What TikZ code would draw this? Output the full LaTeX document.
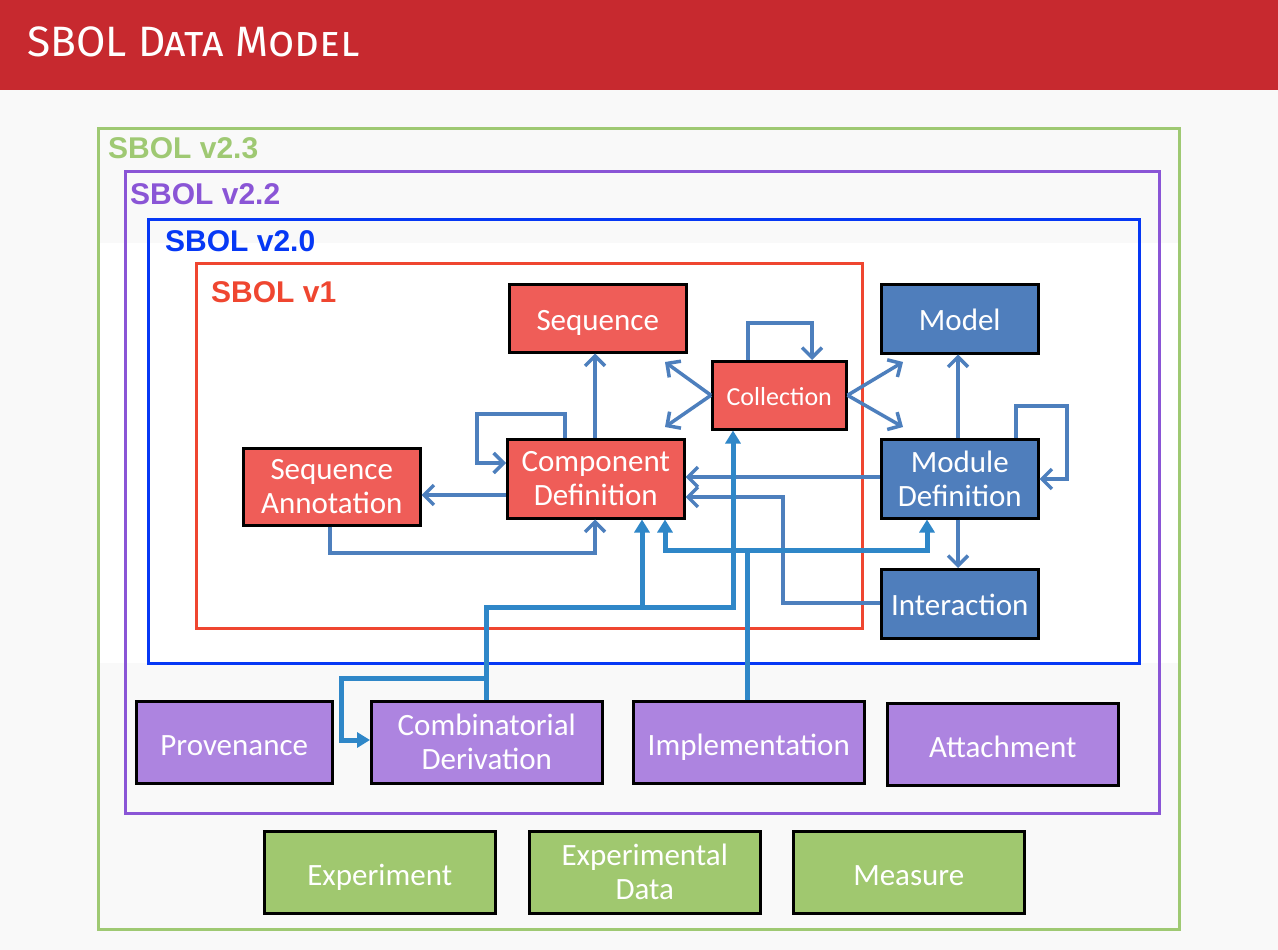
\documentclass[tikz,border=0pt]{standalone}
\usepackage{fontspec}
\usetikzlibrary{arrows.meta}
\newfontfamily\carl{Carlito}
\newfontfamily\lsans{Liberation Sans}
\newfontfamily\fira{Fira Sans}
\definecolor{hdr}{HTML}{C7292F}
\definecolor{pagebg}{HTML}{F9F9F9}
\definecolor{fgreen}{HTML}{9FC973}
\definecolor{fpurple}{HTML}{8A55D6}
\definecolor{fblue}{HTML}{0638F5}
\definecolor{fred}{HTML}{EF4630}
\definecolor{nred}{HTML}{EF5D58}
\definecolor{nblue}{HTML}{4F7EBC}
\definecolor{npurple}{HTML}{AD84E0}
\definecolor{ngreen}{HTML}{A0C86F}
\definecolor{steel}{HTML}{4D7FBD}
\definecolor{bright}{HTML}{2F87C8}
\tikzset{
  basebox/.style={draw=black, line width=2.5pt, text=white, align=center, anchor=north west,
    inner sep=0pt, font=\carl\fontsize{31}{34}\selectfont},
  rbox/.style={basebox, fill=nred},
  bbox/.style={basebox, fill=nblue},
  pbox/.style={basebox, fill=npurple},
  gbox/.style={basebox, fill=ngreen},
  oneline/.style={text height=24pt, text depth=0pt},
  lowline/.style={text height=27pt, text depth=0pt},
  frame/.style={line width=3pt},
  flabel/.style={anchor=base west, inner sep=0pt, font=\lsans\bfseries\fontsize{30}{34}\selectfont},
  sarr/.style={draw=steel, line width=3.5pt, -{Straight Barb[length=10pt,width=20pt,line width=3.5pt]}},
  barr/.style={draw=bright, line width=5pt, -{Triangle[length=13pt,width=15pt]}},
}
\begin{document}
\begin{tikzpicture}[x=1pt,y=-1pt]
\useasboundingbox (0,0) rectangle (1278,950);
% backgrounds
\fill[pagebg] (0,0) rectangle (1278,950);
\fill[hdr] (0,0) rectangle (1278,90);
\fill[white] (100,243) rectangle (1178,663);
\node[anchor=base west, inner sep=0pt, text=white, font=\fira\fontsize{42.5}{50}\selectfont] (title) at (27,57) {\scshape SBOL Data Model};
% frames
\draw[frame, fgreen] (98,128) rectangle (1179,929);
\draw[frame, fpurple] (125,171) rectangle (1159,813);
\draw[frame, fblue] (148,219) rectangle (1139,663);
\draw[frame, fred] (196,263) rectangle (862,628);
\node[flabel, text=fgreen] (l23) at (108,158) {SBOL v2.3};
\node[flabel, text=fpurple] (l22) at (130,204) {SBOL v2.2};
\node[flabel, text=fblue] (l20) at (165,251) {SBOL v2.0};
\node[flabel, text=fred] (l1) at (211,302) {SBOL v1};
% red nodes
\node[rbox, oneline, minimum width=177pt, minimum height=68pt] (seq) at (508,283) {Sequence};
\node[rbox, oneline, minimum width=134pt, minimum height=68pt, font=\carl\fontsize{26}{30}\selectfont, text height=20pt] (coll) at (711,360) {Collection};
\node[rbox, minimum width=177pt, minimum height=79pt] (cd) at (506,438) {Component\\Definition};
\node[rbox, minimum width=177pt, minimum height=77pt] (sa) at (242,447) {Sequence\\Annotation};
% blue nodes
\node[bbox, oneline, minimum width=157pt, minimum height=69pt] (model) at (880,283) {Model};
\node[bbox, minimum width=157pt, minimum height=79pt] (md) at (880,438) {Module\\Definition};
\node[bbox, oneline, minimum width=157pt, minimum height=69pt] (inter) at (880,568) {Interaction};
% purple nodes
\node[pbox, lowline, minimum width=196pt, minimum height=82pt] (prov) at (135,700) {Provenance};
\node[pbox, minimum width=231pt, minimum height=82pt] (comb) at (370,700) {Combinatorial\\Derivation};
\node[pbox, lowline, minimum width=231pt, minimum height=82pt] (impl) at (632,700) {Implementation};
\node[pbox, lowline, minimum width=231pt, minimum height=82pt] (att) at (886,702) {Attachment};
% green nodes
\node[gbox, lowline, minimum width=231pt, minimum height=82pt] (exp) at (263,830) {Experiment};
\node[gbox, minimum width=231pt, minimum height=82pt] (expd) at (528,830) {Experimental\\Data};
\node[gbox, lowline, minimum width=231pt, minimum height=82pt] (meas) at (792,830) {Measure};
% free ends
\coordinate (cUL) at (665,362);
\coordinate (cLL) at (665,427);
\coordinate (cUR) at (903,362);
\coordinate (cLR) at (903,427);
% steel-blue connectors
\draw[sarr] (595,0 |- cd.north) -- (595,0 |- seq.south);
\draw[sarr] (565,0 |- cd.north) |- (477,414) |- (cd.west |- 0,463);
\draw[sarr] (cd.west |- 0,495) -- (sa.east |- 0,495);
\draw[sarr] (330,0 |- sa.south) |- (595,553) -- (595,0 |- cd.south);
\draw[sarr] (coll.west) -- (cUL);
\draw[sarr] (coll.west) -- (cLL);
\draw[sarr] (748,0 |- coll.north) |- (812,323) -- (812,0 |- coll.north);
\draw[sarr] (coll.east) -- (cUR);
\draw[sarr] (coll.east) -- (cLR);
\draw[sarr] (958,0 |- md.north) -- (958,0 |- model.south);
\draw[sarr] (1016,0 |- md.north) |- (1067,406) |- (md.east |- 0,479);
\draw[sarr] (958,0 |- md.south) -- (958,0 |- inter.north);
\draw[sarr] (md.west |- 0,477) -- (cd.east |- 0,477);
\draw[sarr] (inter.west |- 0,603) -| (783,497) -- (cd.east |- 0,497);
% bright-blue connectors
\draw[barr] (486,0 |- comb.north) |- (733,607) -- (733,0 |- coll.south);
\draw[barr] (642,607) -- (642,0 |- cd.south);
\draw[barr] (486,678) -| (341,740) -- (comb.west |- 0,740);
\draw[barr] (747,0 |- impl.north) |- (927,550) -- (927,0 |- md.south);
\draw[barr] (747,550) -| (665,0 |- cd.south);
\end{tikzpicture}
\end{document}
